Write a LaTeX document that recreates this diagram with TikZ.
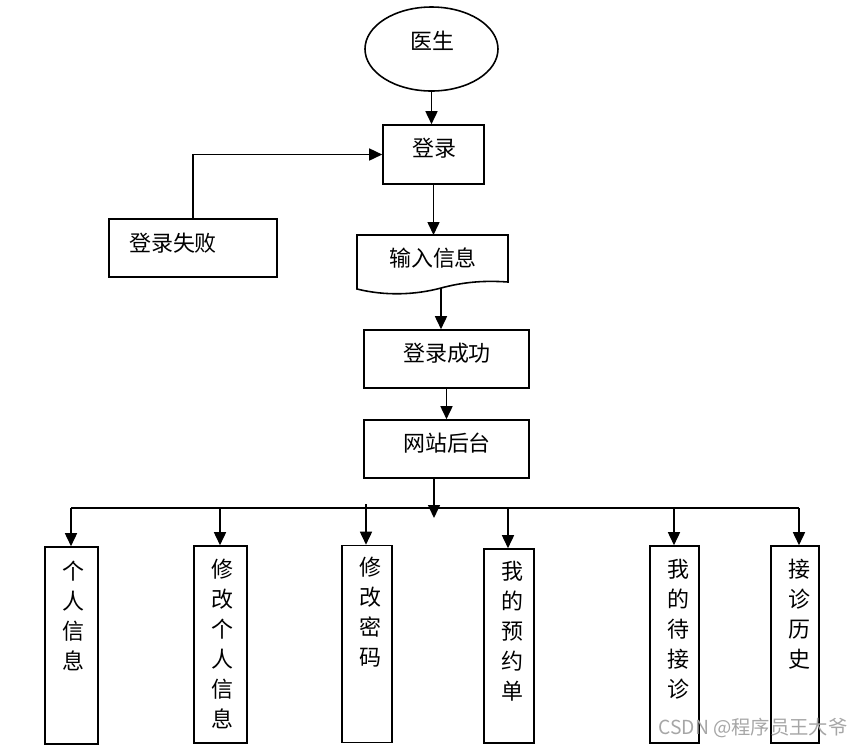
\documentclass[tikz,border=0pt]{standalone}
\usepackage{fontspec}
\newfontfamily\cjk{Noto Sans CJK SC}
\usepackage{tikz}
\usetikzlibrary{positioning,arrows.meta,shapes.geometric}

\begin{document}
\begin{tikzpicture}[x=0.2mm,y=-0.2mm,font=\cjk\fontsize{12.5}{17}\selectfont,
  box/.style={rectangle,draw=black,line width=0.9pt,inner sep=0pt},
  vbox/.style={rectangle,draw=black,line width=0.9pt,inner sep=0pt,minimum height=39.4mm},
  vtxt/.style={anchor=north,align=center,inner sep=0pt},
  ar/.style={-{Triangle[length=2.6mm,width=2.4mm]},line width=0.9pt,black}]
\useasboundingbox (0,0) rectangle (865,748);
% top: doctor and login
\node[ellipse,draw=black,line width=0.9pt,minimum width=26.6mm,minimum height=16.8mm] (doctor) at (431.5,49) {};
\node (doctorT) at (432,41) {医生};
\node[box,minimum width=20.2mm,minimum height=11.8mm] (login) at (433.5,154.5) {};
\node (loginT) at (434,148) {登录};
\node[box,minimum width=33.6mm,minimum height=11.6mm] (fail) at (193,248) {};
\node (failT) at (173,243) {登录失败};
\draw[ar] (doctor.south) -- (doctor.south |- login.north);
\draw[ar] (fail.north) |- (login.west);
% input (document shape)
\draw[line width=0.9pt] (357,235) -- (508,235) -- (508,282)
  .. controls (480,280) and (460,283) .. (441,288)
  .. controls (415,295) and (385,296) .. (357,289) -- cycle;
\node (input) at (433,258) {输入信息};
\coordinate (inputB) at (441,288);
\draw[ar] (login.south) -- (login.south |- 433,235);
% success and backend
\node[box,minimum width=33mm,minimum height=11.6mm] (ok) at (446.5,359) {};
\node (okT) at (447,353) {登录成功};
\node[box,minimum width=33mm,minimum height=11.6mm] (backend) at (446.5,449) {};
\node (backendT) at (447,443) {网站后台};
\draw[ar] (inputB) -- (inputB |- ok.north);
\draw[ar] (ok.south) -- (backend.north);
\coordinate (hub) at (434,518);
\draw[ar] (hub |- backend.south) -- (hub);
% bus to the six pages
\coordinate (t1) at (71,508);
\coordinate (t2) at (220,508);
\coordinate (t3) at (366,504);
\coordinate (t4) at (508,508);
\coordinate (t5) at (674,508);
\coordinate (t6) at (799,508);
\draw[line width=0.9pt] (t1) -- (t6);
\node[vbox,minimum width=10.6mm] (c1) at (71.5,645.5) {};
\node[vbox,minimum width=10.6mm] (c2) at (220.5,644.5) {};
\node[vbox,minimum width=10mm] (c3) at (367,644) {};
\node[vbox,minimum width=10mm,minimum height=38.8mm] (c4) at (509,646) {};
\node[vbox,minimum width=9.8mm] (c5) at (674.5,644.5) {};
\node[vbox,minimum width=9.6mm] (c6) at (795,644.5) {};
\draw[ar] (t1) -- (t1 |- c1.north);
\draw[ar] (t2) -- (t2 |- c2.north);
\draw[ar] (t3) -- (t3 |- c3.north);
\draw[ar] (t4) -- (t4 |- c4.north);
\draw[ar] (t5) -- (t5 |- c5.north);
\draw[ar] (t6) -- (t6 |- c6.north);
\node[vtxt] (c1T) at (73,561) {个\\人\\信\\息};
\node[vtxt] (c2T) at (222,559) {修\\改\\个\\人\\信\\息};
\node[vtxt] (c3T) at (370,557) {修\\改\\密\\码};
\node[vtxt] (c4T) at (512,561) {我\\的\\预\\约\\单};
\node[vtxt] (c5T) at (678,559) {我\\的\\待\\接\\诊};
\node[vtxt] (c6T) at (799,559) {接\\诊\\历\\史};
% watermark
\node[text=black!35,font=\cjk\fontsize{11}{13}\selectfont] (mark) at (753,728) {CSDN @程序员王大爷};
\end{tikzpicture}
\end{document}
